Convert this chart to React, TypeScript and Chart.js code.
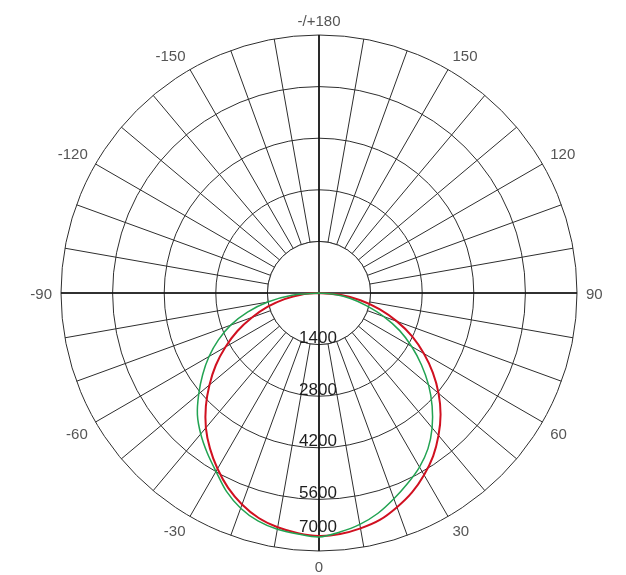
import React, { useEffect, useRef } from 'react';
import { Chart, registerables } from 'chart.js';

Chart.register(...registerables);

// Measurement angles (degrees), 0 = straight down, positive to the right
const angles = [
  -90, -85, -80, -75, -70, -65, -60, -55, -50, -45, -40, -35, -30, -25, -20, -15, -10, -5,
  0, 5, 10, 15, 20, 25, 30, 35, 40, 45, 50, 55, 60, 65, 70, 75, 80, 85, 90,
];

// Red curve intensities (cd)
const redCd = [
  0, 461, 950, 1438, 1926, 2442, 2930, 3418, 3880, 4341, 4775, 5155, 5507, 5833, 6105, 6320, 6455, 6540,
  6590,
  6565, 6485, 6375, 6185, 5970, 5700, 5400, 5045, 4665, 4235, 3770, 3285, 2795, 2250, 1710, 1140, 570, 0,
];

// Green curve intensities (cd)
const greenCd = [
  0, 733, 1411, 2008, 2550, 3011, 3445, 3852, 4259, 4666, 4992, 5290, 5589, 5941, 6213, 6403, 6511, 6565,
  6620,
  6511, 6376, 6186, 5941, 5697, 5453, 5155, 4775, 4341, 3880, 3391, 2903, 2415, 1872, 1329, 868, 407, 0,
];

// Radial tick values
const intensityTicks = [1400, 2800, 4200, 5600, 7000];

// Angular labels shown around the diagram
const angleLabels = [180, 150, 120, 90, 60, 30, 0, -30, -60, -90, -120, -150];

const STEP = 5;
const COUNT = 360 / STEP;
const FONT = '"Liberation Sans", Arial, sans-serif';
const GRID = '#2e2e2e';

// label index i -> angle (clockwise from top, top = 180)
const labelAngles: number[] = Array.from({ length: COUNT }, (_, i) => 180 - STEP * i);

function fullSeries(values: number[]): number[] {
  return labelAngles.map((a) => {
    const k = angles.indexOf(a);
    return k >= 0 ? values[k] : 0;
  });
}

const polarPlugin = {
  id: 'polarDecor',
  beforeDatasetsDraw(chart: any) {
    const s = chart.scales.r;
    const ctx = chart.ctx;
    const cx = s.xCenter;
    const cy = s.yCenter;
    const R = s.drawingArea;
    const r1 = s.getDistanceFromCenterForValue(intensityTicks[0]);
    ctx.save();
    ctx.fillStyle = '#ffffff';
    ctx.beginPath();
    ctx.arc(cx, cy, r1, 0, Math.PI * 2);
    ctx.fill();
    ctx.strokeStyle = GRID;
    ctx.lineWidth = 1;
    ctx.beginPath();
    ctx.arc(cx, cy, r1, 0, Math.PI * 2);
    ctx.stroke();
    ctx.strokeStyle = '#111111';
    ctx.lineWidth = 1.6;
    ctx.beginPath();
    ctx.moveTo(cx - R, cy);
    ctx.lineTo(cx + R, cy);
    ctx.moveTo(cx, cy - R);
    ctx.lineTo(cx, cy + R);
    ctx.stroke();
    ctx.restore();
  },
  afterDatasetsDraw(chart: any) {
    const s = chart.scales.r;
    const ctx = chart.ctx;
    const cx = s.xCenter;
    const cy = s.yCenter;
    ctx.save();
    ctx.font = `17px ${FONT}`;
    ctx.fillStyle = '#1e1e1e';
    ctx.textAlign = 'center';
    ctx.textBaseline = 'middle';
    intensityTicks.forEach((v, i) => {
      const d = s.getDistanceFromCenterForValue(v);
      const off = i === intensityTicks.length - 1 ? 24 : 6;
      ctx.fillText(String(v), cx - 1, cy + d - off);
    });
    ctx.restore();
  },
  afterDraw(chart: any) {
    const s = chart.scales.r;
    const ctx = chart.ctx;
    const R = s.drawingArea;
    ctx.save();
    ctx.font = `15px ${FONT}`;
    ctx.fillStyle = '#555555';
    ctx.textAlign = 'center';
    ctx.textBaseline = 'middle';
    angleLabels.forEach((a) => {
      const idx = (((180 - a) / STEP) % COUNT + COUNT) % COUNT;
      const text = a === 180 ? '-/+180' : String(a);
      const ang = s.getIndexAngle(idx);
      const sx = Math.sin(ang); // rightward component
      const sy = -Math.cos(ang); // downward component
      const hw = ctx.measureText(text).width / 2;
      const p = s.getPointPosition(idx, R);
      const signX = Math.abs(sx) < 1e-6 ? 0 : Math.sign(sx);
      const signY = Math.abs(sy) < 1e-6 ? 0 : Math.sign(sy);
      const ox = signX * (hw + 9 * Math.abs(sx));
      const oy = signY * 7 + 8 * sy + 1.5;
      ctx.fillText(text, p.x + ox, p.y + oy);
    });
    ctx.restore();
  },
};

export default function App() {
  const ref = useRef<HTMLCanvasElement | null>(null);

  useEffect(() => {
    if (!ref.current) return;
    const chart = new Chart(ref.current, {
      type: 'radar',
      data: {
        labels: labelAngles.map(String),
        datasets: [
          {
            label: 'C90-270',
            data: fullSeries(greenCd),
            borderColor: '#22a352',
            borderWidth: 1.5,
            backgroundColor: 'transparent',
            fill: false,
            pointRadius: 0,
            tension: 0.3,
          },
          {
            label: 'C0-180',
            data: fullSeries(redCd),
            borderColor: '#d01020',
            borderWidth: 2,
            backgroundColor: 'transparent',
            fill: false,
            pointRadius: 0,
            tension: 0.3,
          },
        ],
      },
      options: {
        responsive: false,
        maintainAspectRatio: false,
        devicePixelRatio: 1,
        animation: false,
        layout: { padding: { left: 61, top: 35, right: 49, bottom: 24 } },
        plugins: {
          legend: { display: false },
          tooltip: { enabled: false },
          title: { display: false },
        },
        scales: {
          r: {
            min: 0,
            max: 7000,
            startAngle: 0,
            ticks: { stepSize: 1400, display: false },
            grid: { circular: true, color: GRID, lineWidth: 1 },
            angleLines: {
              display: true,
              color: GRID,
              lineWidth: (c: any) => (c.index % 2 === 0 ? 1 : 0),
            },
            pointLabels: { display: false },
          },
        },
      },
      plugins: [polarPlugin],
    });
    return () => chart.destroy();
  }, []);

  return (
    <div style={{ position: 'fixed', left: 0, top: 0, width: 626, height: 575, background: '#fff' }}>
      <canvas ref={ref} width={626} height={575} style={{ display: 'block' }} />
    </div>
  );
}
